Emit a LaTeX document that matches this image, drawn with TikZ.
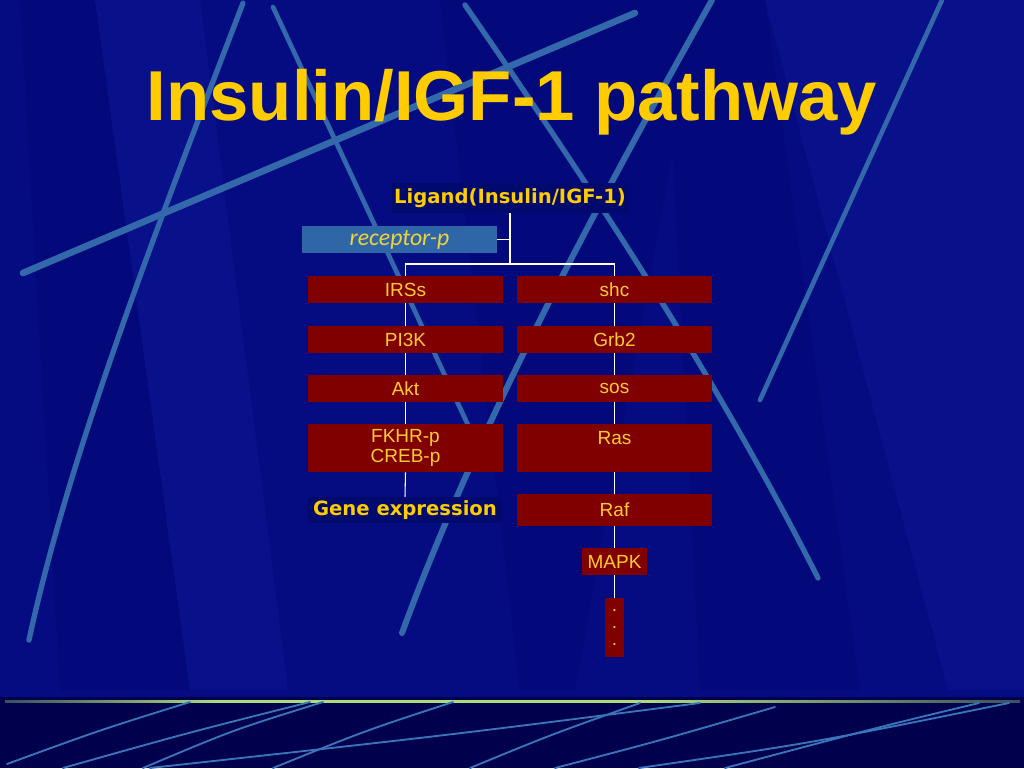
\documentclass[tikz,border=0pt]{standalone}
\usepackage{fontspec}
\setmainfont{Liberation Sans}
\newfontfamily\titlefam{Liberation Sans}
\newfontfamily\widefam{DejaVu Sans}
\newfontfamily\calfam{Carlito}
\definecolor{bgcol}{HTML}{050C82}
\definecolor{bgdark}{HTML}{03087A}
\definecolor{bglight}{HTML}{081189}
\definecolor{bandcol}{HTML}{00004C}
\definecolor{stripecol}{HTML}{3368AA}
\definecolor{bandstripe}{HTML}{3A74BA}
\definecolor{boxred}{HTML}{800000}
\definecolor{boxtxt}{HTML}{FFCC33}
\definecolor{titlecol}{HTML}{FFCC00}
\definecolor{navybox}{HTML}{000A6C}
\definecolor{recblue}{HTML}{2E66A8}
\definecolor{rectxt}{HTML}{F2D23A}
\definecolor{greenmid}{HTML}{A8DC7C}
\definecolor{greenend}{HTML}{3A5060}
\newcommand\titlefont{\titlefam\bfseries\fontsize{53}{60}\selectfont}
\newcommand\boxfont{\fontsize{14.25}{15}\selectfont}
\newcommand\widefont{\widefam\bfseries\fontsize{14.7}{16}\selectfont}
\newcommand\recfont{\calfam\itshape\fontsize{17.8}{20}\selectfont}
\begin{document}
\begin{tikzpicture}[x=0.75pt,y=-0.75pt,
  redbox/.style={fill=boxred, text=boxtxt, font=\boxfont, inner sep=0pt,
    minimum width=146.25pt, minimum height=20.25pt, align=center},
  navylabel/.style={fill=navybox, text=titlecol, font=\widefont, inner sep=0pt},
  link/.style={draw=white, line width=0.8pt},
  stripe/.style={draw=stripecol, line cap=round},
  bandline/.style={draw=bandstripe, line width=1.4pt, line cap=round}]
\useasboundingbox (0,0) rectangle (1024,768);
% background
\fill[bgcol] (0,0) rectangle (1024,768);
\fill[bgdark] (20,0) -- (95,0) -- (190,690) -- (60,690) -- cycle;
\fill[bglight] (95,0) -- (200,0) -- (288,690) -- (190,690) -- cycle;
\fill[bgdark] (440,0) -- (700,0) -- (575,690) -- (520,690) -- cycle;
\fill[bgdark] (665,0) -- (765,0) -- (860,690) -- (700,690) -- cycle;
\fill[bglight] (765,0) -- (1024,0) -- (1024,690) -- (948,690) -- cycle;
% stripes
\draw[stripe, line width=5pt] (635,13) -- (23,273);
\draw[stripe, line width=4pt] (243,3) .. controls (160,220) and (70,450) .. (29,640);
\draw[stripe, line width=3.5pt] (273,7) -- (468,425);
\draw[stripe, line width=4pt] (465,5) .. controls (600,200) and (720,384) .. (818,578);
\draw[stripe, line width=4.5pt] (712,0) .. controls (600,200) and (480,420) .. (402,633);
\draw[stripe, line width=3.5pt] (942,0) -- (760,400);
% bottom band
\fill[bandcol] (0,697) rectangle (1024,768);
\shade[left color=greenend, right color=greenmid] (5,700) rectangle (215,702.8);
\fill[greenmid] (215,700) rectangle (650,702.8);
\shade[left color=greenmid, right color=greenend] (650,700) rectangle (1020,702.8);
\draw[bandline] (190,702) .. controls (100,730) .. (7,764);
\draw[bandline] (310,702) .. controls (187,733) .. (63,768);
\draw[bandline] (323,702) .. controls (233,730) .. (143,768);
\draw[bandline] (150,768) .. controls (450,735) .. (700,703);
\draw[bandline] (453,702) .. controls (367,730) .. (273,768);
\draw[bandline] (470,768) .. controls (550,735) .. (640,703);
\draw[bandline] (775,707) .. controls (662,740) .. (555,768);
\draw[bandline] (1009,703) .. controls (812,743) .. (639,768);
\draw[bandline] (979,703) .. controls (879,727) .. (725,768);
% title
\node[font=\titlefont, text=titlecol, anchor=base] (title) at (512,120) {Insulin/IGF-1 pathway};
% diagram
\node[navylabel, minimum width=177pt, minimum height=22.5pt] (lig) at (510,198) {Ligand(Insulin/IGF-1)};
\node[fill=recblue, text=rectxt, font=\recfont, inner sep=0pt, minimum width=146.25pt, minimum height=20.25pt] (rec) at (399.5,239.5) {receptor-p};
\coordinate (split) at (510,264);
\node[redbox] (irs) at (405.5,289.5) {IRSs};
\node[redbox] (pi3k) at (405.5,339.5) {PI3K};
\node[redbox] (akt) at (405.5,388.5) {Akt};
\node[redbox, minimum height=36pt] (fkhr) at (405.5,448) {FKHR-p\\CREB-p};
\node[navylabel, minimum width=145.5pt, minimum height=19.5pt] (gene) at (405,510) {Gene expression};
\node[redbox] (shc) at (614.5,289.5) {shc};
\node[redbox] (grb2) at (614.5,339.5) {Grb2};
\node[redbox] (sos) at (614.5,388.5) {sos};
\node[redbox, minimum height=36pt] (ras) at (614.5,448) {Ras\\\phantom{R}};
\node[redbox, minimum height=24pt] (raf) at (614.5,510) {Raf};
\node[redbox, minimum width=48.75pt] (mapk) at (614.5,561.5) {MAPK};
\node[redbox, minimum width=14.25pt, minimum height=44.25pt, font=\fontsize{14.25}{13}\selectfont] (dots) at (614.5,627.5) {.\\.\\.};
% connectors
\draw[link] (lig.south) -- (split);
\draw[link] (rec.east) -- (rec.east -| split);
\draw[link] (irs.north) |- (split) -| (shc.north);
\draw[link] (irs.south) -- (pi3k.north);
\draw[link] (pi3k.south) -- (akt.north);
\draw[link] (akt.south) -- (fkhr.north);
\draw[link] (fkhr.south) -- (gene.north);
\draw[link] (shc.south) -- (grb2.north);
\draw[link] (grb2.south) -- (sos.north);
\draw[link] (sos.south) -- (ras.north);
\draw[link] (ras.south) -- (raf.north);
\draw[link] (raf.south) -- (mapk.north);
\draw[link] (mapk.south) -- (dots.north);
\end{tikzpicture}
\end{document}
